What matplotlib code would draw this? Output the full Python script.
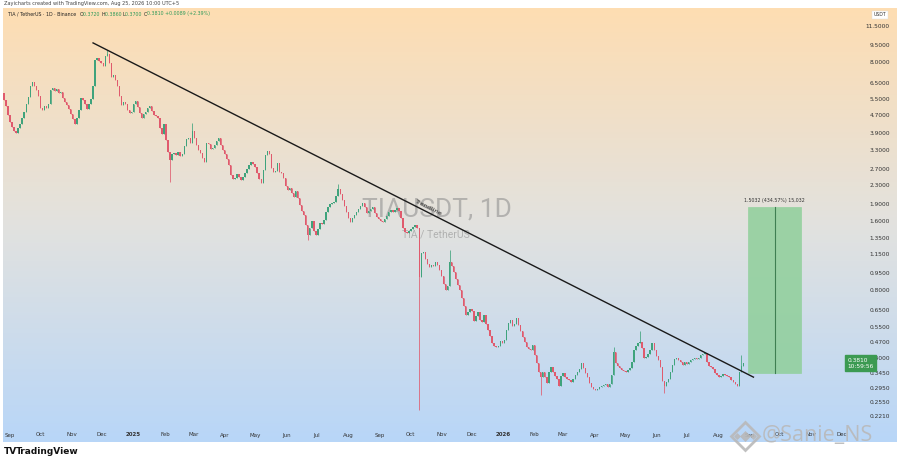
import numpy as np
import matplotlib
matplotlib.use("Agg")
import matplotlib.pyplot as plt
import matplotlib.dates as mdates
from matplotlib.transforms import blended_transform_factory
from matplotlib.patches import Rectangle
from datetime import datetime, timedelta

# ---------------- data ----------------
start_date = datetime(2024, 8, 24)
step_days = 2
first_open = 6.1
closes = [
    5.9, 5.49, 5.17, 4.71, 4.39, 4.17, 4.01, 3.93, 4.13, 4.30,
    4.57, 4.86, 5.27, 5.67, 6.33, 6.58, 6.33, 6.07, 5.71, 5.07,
    4.96, 5.17, 5.07, 5.27, 6.07, 6.19, 6.0, 6.13, 5.89, 5.95,
    5.61, 5.38, 5.22, 5.01, 4.76, 4.52, 4.30, 4.57, 4.96, 5.61,
    5.49, 5.27, 5.01, 5.27, 5.55, 6.33, 8.23, 8.4, 8.14, 7.98,
    7.74, 8.57, 8.75, 7.98, 6.93, 7.07, 6.72, 6.33, 5.71, 5.22,
    5.38, 5.27, 4.96, 4.81, 4.86, 5.27, 5.44, 5.12, 4.81, 4.57,
    4.76, 4.86, 5.07, 5.17, 4.91, 4.71, 4.66, 4.57, 4.13, 3.89,
    4.30, 3.66, 3.24, 2.99, 3.17, 3.20, 3.14, 3.24, 3.11, 3.17,
    3.45, 3.70, 3.74, 3.55, 4.01, 3.74, 3.48, 3.31, 3.20, 3.05,
    2.93, 3.55, 3.52, 3.34, 3.38, 3.48, 3.62, 3.74, 3.48, 3.31,
    3.17, 3.02, 2.84, 2.57, 2.47, 2.49, 2.60, 2.52, 2.44, 2.52,
    2.62, 2.73, 2.84, 2.93, 2.87, 2.79, 2.62, 2.47, 2.37, 2.70,
    3.14, 3.27, 3.17, 2.76, 2.65, 2.68, 2.90, 2.65, 2.62, 2.49,
    2.30, 2.21, 2.25, 2.14, 2.06, 2.19, 2.04, 1.89, 1.78, 1.71,
    1.55, 1.39, 1.50, 1.61, 1.46, 1.39, 1.49, 1.58, 1.56, 1.63,
    1.76, 1.85, 1.91, 1.93, 1.95, 2.08, 2.23, 2.12, 1.99, 1.87,
    1.76, 1.66, 1.60, 1.66, 1.71, 1.76, 1.82, 1.87, 1.93, 1.85,
    1.74, 1.78, 1.82, 1.85, 1.74, 1.68, 1.65, 1.61, 1.60, 1.65,
    1.70, 1.76, 1.80, 1.76, 1.80, 1.83, 1.78, 1.66, 1.50, 1.44,
    1.43, 1.46, 1.49, 1.52, 1.55, 1.50, 0.91, 1.16, 1.18, 1.10,
    1.04, 1.01, 1.03, 1.02, 1.06, 1.03, 0.98, 0.92, 0.85, 0.80,
    0.83, 1.06, 1.02, 0.96, 0.89, 0.84, 0.80, 0.74, 0.68, 0.62,
    0.64, 0.66, 0.65, 0.584, 0.614, 0.64, 0.59, 0.578, 0.621, 0.567,
    0.534, 0.502, 0.47, 0.453, 0.448, 0.453, 0.477, 0.468, 0.482, 0.534,
    0.573, 0.59, 0.556, 0.567, 0.602, 0.561, 0.529, 0.497, 0.472, 0.45,
    0.44, 0.436, 0.458, 0.414, 0.381, 0.349, 0.333, 0.349, 0.33, 0.312,
    0.349, 0.367, 0.349, 0.335, 0.325, 0.303, 0.335, 0.345, 0.333, 0.325,
    0.322, 0.316, 0.325, 0.338, 0.349, 0.36, 0.381, 0.363, 0.345, 0.33,
    0.312, 0.30, 0.294, 0.291, 0.294, 0.30, 0.303, 0.306, 0.309, 0.30,
    0.309, 0.338, 0.427, 0.381, 0.37, 0.363, 0.356, 0.352, 0.349, 0.356,
    0.363, 0.387, 0.436, 0.453, 0.468, 0.472, 0.445, 0.402, 0.406, 0.418,
    0.436, 0.468, 0.436, 0.41, 0.394, 0.367, 0.319, 0.303, 0.316, 0.325,
    0.349, 0.374, 0.398, 0.402, 0.394, 0.387, 0.374, 0.387, 0.377, 0.387,
    0.394, 0.398, 0.402, 0.398, 0.402, 0.414, 0.418, 0.422, 0.387, 0.37,
    0.367, 0.36, 0.345, 0.338, 0.333, 0.335, 0.342, 0.338, 0.335, 0.33,
    0.322, 0.316, 0.309, 0.303, 0.349, 0.372, 0.381,
]
# notable wicks (candle index -> extreme price)
wick_lows = {83: 2.40, 206: 0.237, 266: 0.276, 327: 0.283, 151: 1.33}
wick_highs = {52: 9.10, 94: 4.35, 166: 2.35, 221: 1.20, 302: 0.45, 315: 0.53, 365: 0.415}

trend_dates = ["2024-11-22", "2026-09-05"]
trend_prices = [9.78, 0.331]

box_dates = ["2026-08-31", "2026-10-22"]
box_prices = [0.3459, 1.8491]
box_label = "1.5032 (434.57%) 15,032"

price_ticks = [11.5, 9.5, 8.0, 6.5, 5.5, 4.7, 3.9, 3.3, 2.7, 2.3, 1.9, 1.6,
               1.35, 1.15, 0.95, 0.8, 0.65, 0.55, 0.47, 0.40, 0.345, 0.295,
               0.255, 0.221]
month_labels = ["Sep", "Oct", "Nov", "Dec", "2025", "Feb", "Mar", "Apr", "May",
                "Jun", "Jul", "Aug", "Sep", "Oct", "Nov", "Dec", "2026", "Feb",
                "Mar", "Apr", "May", "Jun", "Jul", "Aug", "Sep", "Oct", "Nov", "Dec"]
last_price_label = "0.3810"
countdown = "10:59:56"

# ---------------- figure ----------------
W, H = 900, 463
fig = plt.figure(figsize=(W / 100, H / 100), dpi=100)
fig.patch.set_facecolor("white")

def fx(px):
    return px / W

def fy(py):
    return 1 - py / H

# gradient background
bg = fig.add_axes([fx(3), fy(442), fx(894), (442 - 8) / H], zorder=0)
top = np.array([254, 221, 178]) / 255
mid = np.array([226, 226, 223]) / 255
bot = np.array([184, 214, 248]) / 255
n = 400
t = np.linspace(0, 1, n)[:, None]
grad = np.where(t < 0.5, top + (mid - top) * (t / 0.5), mid + (bot - mid) * ((t - 0.5) / 0.5))
bg.imshow(grad[:, None, :], aspect="auto", extent=[0, 1, 0, 1])
bg.axis("off")

ax = fig.add_axes([fx(3), fy(427), 840 / W, (427 - 8) / H], zorder=1)
ax.set_facecolor("none")
for s in ax.spines.values():
    s.set_visible(False)
ax.set_yscale("log")

dates = [start_date + timedelta(days=step_days * i) for i in range(len(closes))]
dn = mdates.date2num(dates)
opens = [first_open] + closes[:-1]
o = np.array(opens)
c = np.array(closes)
hi = np.maximum(o, c)
lo = np.minimum(o, c)
for k, v in wick_lows.items():
    lo[k] = min(lo[k], v)
for k, v in wick_highs.items():
    hi[k] = max(hi[k], v)

up_col = "#3fa37c"
dn_col = "#e05a6d"
cols = [up_col if cc >= oo else dn_col for oo, cc in zip(o, c)]
ax.vlines(dn, lo, hi, colors=cols, linewidth=0.55, zorder=3)
body_lo = np.minimum(o, c)
body_hi = np.maximum(o, c)
ax.bar(dn, body_hi - body_lo, bottom=body_lo, width=1.35, color=cols, linewidth=0, zorder=3)

sep1 = mdates.date2num(datetime(2024, 9, 1))
ppd = 708 / 699.0
ax.set_xlim(sep1 - 7 / ppd, sep1 + 833 / ppd)
ax.set_ylim(0.1997, 13.93)
ax.set_xticks([])
ax.set_yticks([])
ax.yaxis.set_minor_locator(matplotlib.ticker.NullLocator())

# trend line
tdn = mdates.date2num([datetime.fromisoformat(d) for d in trend_dates])
ax.plot(tdn, trend_prices, color="#1a1a1a", lw=1.0, zorder=4)
p0 = ax.transData.transform((tdn[0], trend_prices[0]))
p1 = ax.transData.transform((tdn[1], trend_prices[1]))
ang = np.degrees(np.arctan2(p1[1] - p0[1], p1[0] - p0[0]))
frac = 0.505
lx = tdn[0] + (tdn[1] - tdn[0]) * frac
ly = np.exp(np.log(trend_prices[0]) + (np.log(trend_prices[1]) - np.log(trend_prices[0])) * frac)
ax.annotate("Trendline", (lx, ly), xytext=(0, 1.5), textcoords="offset points",
            rotation=ang, rotation_mode="anchor", ha="center", va="bottom",
            fontsize=4.6, color="#222222", zorder=5)

# projection box
bdn = mdates.date2num([datetime.fromisoformat(d) for d in box_dates])
ax.add_patch(Rectangle((bdn[0], box_prices[0]), bdn[1] - bdn[0], box_prices[1] - box_prices[0],
                       facecolor="#8fcf9a", edgecolor="#8fcf9a", alpha=0.85, lw=0.5, zorder=2))
bmid = (bdn[0] + bdn[1]) / 2
ax.plot([bmid, bmid], box_prices, color="#3f7f52", lw=0.8, zorder=3)
ax.text(bmid, box_prices[1] * 1.04, box_label, ha="center", va="bottom", fontsize=3.4,
        color="#333333", zorder=5)

# watermark
ax.text(0.5167, 0.518, "TIAUSDT, 1D", transform=ax.transAxes, ha="center", va="center",
        fontsize=19, color="#8a8a8a", alpha=0.55, family="Roboto", zorder=1)
ax.text(0.5155, 0.4606, "TIA / TetherUS", transform=ax.transAxes, ha="center", va="center",
        fontsize=7.5, color="#8a8a8a", alpha=0.55, family="Roboto", zorder=1)

# price axis labels
tr = blended_transform_factory(ax.transAxes, ax.transData)
xr = (890 - 3) / 840
for p in price_ticks:
    ax.text(xr, p, f"{p:.4f}", transform=tr, ha="right", va="center",
            fontsize=4.2, color="#333333", clip_on=False)
ax.text(1.005, closes[-1], f"{last_price_label}\n{countdown}", transform=tr, ha="left",
        va="center", fontsize=4.2, color="white", linespacing=1.3, clip_on=False, zorder=10,
        bbox=dict(boxstyle="square,pad=0.45", fc="#3c9a52", ec="#3c9a52"))
fig.text(fx(880), fy(15), "USDT", fontsize=3.3, ha="center", va="center", color="#333333",
         bbox=dict(boxstyle="square,pad=0.3", fc="white", ec="#dddddd", lw=0.3))

# time axis labels
trx = blended_transform_factory(ax.transData, ax.transAxes)
yl = -(435 - 427) / 419
m = 0
yr, mo = 2024, 9
while True:
    d = mdates.date2num(datetime(yr, mo, 1))
    if d > ax.get_xlim()[1] or m >= len(month_labels):
        break
    lab = month_labels[m]
    ax.text(d, yl, lab, transform=trx, ha="center", va="center", fontsize=4.0,
            color="#333333", fontweight="bold" if lab.isdigit() else "normal", clip_on=False)
    m += 1
    mo += 1
    if mo > 12:
        mo = 1
        yr += 1

# header texts
fig.text(fx(4), fy(4), "Zayicharts created with TradingView.com, Aug 25, 2026 10:00 UTC+5",
         fontsize=3.6, color="#444444", va="center")
renderer = fig.canvas.get_renderer()
x = 8
legend_parts = [("TIA / TetherUS · 1D · Binance  ", "#222222"), ("O", "#222222"), ("0.3720 ", "#2e9a5a"),
                ("H", "#222222"), ("0.3860 ", "#2e9a5a"), ("L", "#222222"), ("0.3700 ", "#2e9a5a"),
                ("C", "#222222"), ("0.3810 +0.0089 (+2.39%)", "#2e9a5a")]
for s, col in legend_parts:
    tt = fig.text(fx(x), fy(14), s, fontsize=3.4, color=col, va="center")
    x += tt.get_window_extent(renderer=renderer).width

# footer
fig.text(fx(4), fy(452), "TV", fontsize=6.5, fontweight="heavy", color="#111111", va="center")
fig.text(fx(16), fy(452), "TradingView", fontsize=6.5, fontweight="bold", color="#111111", va="center")

# author watermark
wm = "#b9b9b9"
fig.text(fx(762), fy(436), "@Sanie_NS", fontsize=15.5, color=wm, alpha=0.9, va="center",
         family="Open Sans", zorder=20)
for dxp, dyp, s, fill in [(745, 436, 14, False), (745, 436, 5, True), (737, 436, 3, True),
                          (753, 436, 3, True)]:
    fig.lines.append(plt.Line2D([fx(dxp)], [fy(dyp)], transform=fig.transFigure, marker="D",
                                markersize=s, markerfacecolor=wm if fill else "none",
                                markeredgecolor=wm, markeredgewidth=2.0 if not fill else 0.5,
                                alpha=0.9, zorder=20))

fig.savefig("out.png", dpi=100)
